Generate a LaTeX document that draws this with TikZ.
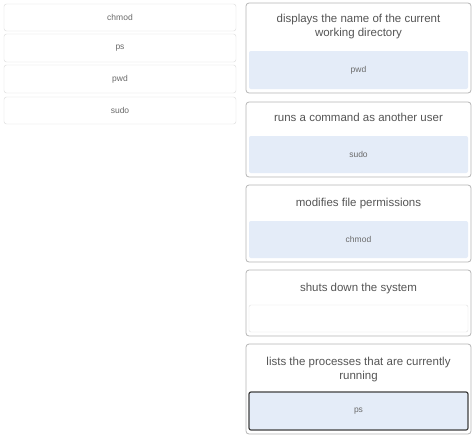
\documentclass[tikz,border=0pt]{standalone}
\usepackage{xcolor}
\usepackage{fontspec}
\setmainfont{Liberation Sans}
\usepackage{tikz}
\usetikzlibrary{positioning,shapes}

\definecolor{cardline}{HTML}{D9D9D9}
\definecolor{panelline}{HTML}{B5B5B5}
\definecolor{slotfill}{HTML}{E4ECF8}
\definecolor{slotline}{HTML}{E0E0E0}
\definecolor{titletext}{HTML}{555555}
\definecolor{labeltext}{HTML}{6A6A6A}

\begin{document}
\begin{tikzpicture}[x=1pt, y=-1pt, outer sep=0pt,
    card/.style={rectangle, rounded corners=2.5pt, draw=cardline, fill=white, minimum width=232pt, text=labeltext, font=\fontsize{8.5}{10}\selectfont},
    panel/.style={rectangle, rounded corners=3pt, draw=panelline, line width=0.8pt, fill=white, minimum width=225pt},
    slot/.style={rectangle, rounded corners=2pt, fill=slotfill, minimum width=219pt, text=labeltext, font=\fontsize{8.5}{10}\selectfont},
    title/.style={align=center, text=titletext, font=\fontsize{11.5}{14}\selectfont}]
    \useasboundingbox (0,0) rectangle (474,437);
    % 左側のカード
    \node [card, minimum height=27pt] (cchmod) at (120,17.5) {chmod};
    \node [card, minimum height=28pt] (cps) at (120,48) {ps};
    \node [card, minimum height=28pt] (cpwd) at (120,79) {pwd};
    \node [card, minimum height=27pt] (csudo) at (120,110.5) {sudo};
    
    % 右側のパネル
    \node [panel, minimum height=90pt] (p1) at (358.5,48) {};
    \node [panel, minimum height=75pt] (p2) at (358.5,139.5) {};
    \node [panel, minimum height=77pt] (p3) at (358.5,223.5) {};
    \node [panel, minimum height=66pt] (p4) at (358.5,303) {};
    \node [panel, minimum height=90pt] (p5) at (358.5,389) {};
    
    % 説明文
    \node [title, below=8pt of p1.north] (t1) {displays the name of the current \\ working directory};
    \node [title, below=8pt of p2.north] (t2) {runs a command as another user};
    \node [title, below=10pt of p3.north] (t3) {modifies file permissions};
    \node [title, below=10pt of p4.north] (t4) {shuts down the system};
    \node [title, below=10pt of p5.north] (t5) {lists the processes that are currently \\ running};
    
    % 回答欄
    \node [slot, minimum height=38pt, above=4pt of p1.south] (s1) {pwd};
    \node [slot, minimum height=37pt, above=4pt of p2.south] (s2) {sudo};
    \node [slot, minimum height=37pt, above=4pt of p3.south] (s3) {chmod};
    \node [slot, minimum height=27pt, above=4pt of p4.south, fill=white, draw=slotline] (s4) {};
    \node [slot, minimum height=38pt, above=4pt of p5.south, draw=black!75, line width=1.2pt] (s5) {ps};
\end{tikzpicture}
\end{document}
